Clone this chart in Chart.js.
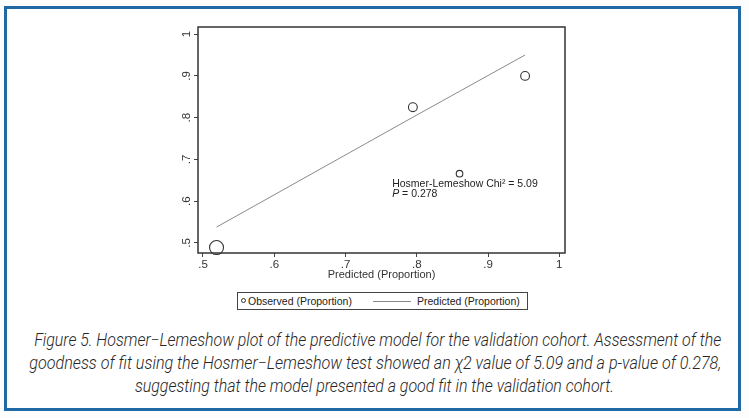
<!DOCTYPE html>
<html>
<head>
<meta charset="utf-8">
<script src="https://cdn.jsdelivr.net/npm/chart.js@4.4.1/dist/chart.umd.min.js"></script>
<style>
  html, body { margin:0; padding:0; background:#fdfdfd; width:749px; height:418px; overflow:hidden; }
  #frame { position:absolute; left:4px; top:6px; width:731px; height:399px; border:3px solid #1f69a6; background:#fff; }
  #c { position:absolute; left:0; top:0; }
  #legend { position:absolute; left:237px; top:292px; width:289px; height:16px; border:1px solid #444; background:#fff;
            font-family:"Liberation Sans", Arial, sans-serif; font-size:10.5px; color:#222; }
  #legend span { position:absolute; top:1px; line-height:14px; white-space:nowrap; }
  #legend .dot { position:absolute; left:3px; top:5px; width:5px; height:5px; border:1px solid #333; border-radius:50%; box-sizing:border-box; }
  #legend .ln { position:absolute; left:135px; top:8px; width:38px; height:0; border-top:1px solid #888; }
  .cap { position:absolute; left:0; width:749px; text-align:center; white-space:nowrap; line-height:22px; height:22px;
         font-family:Roboto,"Liberation Sans",sans-serif; font-weight:300;
         font-style:italic; font-size:17.5px; color:#262626; }
  .cap span { display:inline-block; transform-origin:center center; }
</style>
</head>
<body>
<div id="frame"></div>
<canvas id="c" width="749" height="290" style="width:749px;height:290px"></canvas>
<div id="legend">
  <div class="dot"></div><span style="left:10px">Observed (Proportion)</span>
  <div class="ln"></div><span style="left:179px">Predicted (Proportion)</span>
</div>
<div class="cap" style="top:329px"><span data-w="687">Figure 5. Hosmer−Lemeshow plot of the predictive model for the validation cohort. Assessment of the</span></div>
<div class="cap" style="top:352px"><span data-w="692">goodness of fit using the Hosmer−Lemeshow test showed an χ2 value of 5.09 and a p-value of 0.278,</span></div>
<div class="cap" style="top:375px"><span data-w="479">suggesting that the model presented a good fit in the validation cohort.</span></div>
<script>
// ---- data ----
const predicted = [0.519, 0.7945, 0.860, 0.952];
const observed  = [0.489, 0.825, 0.666, 0.900];
const predictedLine = [0.538, 0.801, 0.863, 0.950];
const xTicks = [0.5, 0.6, 0.7, 0.8, 0.9, 1.0];
const xTickLabels = ['.5', '.6', '.7', '.8', '.9', '1'];
const yTicks = [0.5, 0.6, 0.7, 0.8, 0.9, 1.0];
const yTickLabels = ['.5', '.6', '.7', '.8', '.9', '1'];
const annotLine1 = 'Hosmer-Lemeshow Chi\u00B2 = 5.09';
const annotLine2 = ' = 0.278';
const annotAnchor = { x: 0.7655, y: 0.641 };

const tickFont = { family: '"Liberation Sans", Arial, sans-serif', size: 11.5 };

const framePlugin = {
  id: 'frame',
  afterDatasetsDraw(chart) {
    const { ctx, chartArea: a, scales } = chart;
    ctx.save();
    ctx.strokeStyle = '#333';
    ctx.lineWidth = 1.5;
    ctx.strokeRect(a.left, a.top, a.right - a.left, a.bottom - a.top);
    // annotation text
    const x = scales.x.getPixelForValue(annotAnchor.x);
    const y = scales.y.getPixelForValue(annotAnchor.y);
    ctx.fillStyle = '#222';
    ctx.textBaseline = 'middle';
    ctx.textAlign = 'left';
    ctx.font = '10.5px "Liberation Sans", Arial, sans-serif';
    ctx.fillText(annotLine1, x, y);
    ctx.font = 'italic 10.5px "Liberation Sans", Arial, sans-serif';
    ctx.fillText('P', x, y + 10);
    const w = ctx.measureText('P').width;
    ctx.font = '10.5px "Liberation Sans", Arial, sans-serif';
    ctx.fillText(annotLine2, x + w, y + 10);
    ctx.restore();
  }
};

new Chart(document.getElementById('c'), {
  data: {
    datasets: [
      {
        type: 'scatter',
        label: 'Observed (Proportion)',
        data: predicted.map((p, i) => ({ x: p, y: observed[i] })),
        pointRadius: [7, 4.4, 3.3, 4.4],
        pointHoverRadius: [7, 4.4, 3.3, 4.4],
        pointBorderColor: '#333',
        pointBackgroundColor: 'rgba(0,0,0,0)',
        pointBorderWidth: 1.1,
        clip: false,
        order: 1
      },
      {
        type: 'line',
        label: 'Predicted (Proportion)',
        data: predicted.map((p, i) => ({ x: p, y: predictedLine[i] })),
        borderColor: '#8a8a8a',
        borderWidth: 1,
        pointRadius: 0,
        tension: 0,
        order: 2
      }
    ]
  },
  options: {
    responsive: false,
    animation: false,
    devicePixelRatio: 1,
    layout: { padding: { left: 160, right: 184, top: 27, bottom: 0 } },
    plugins: { legend: { display: false }, tooltip: { enabled: false } },
    scales: {
      x: {
        type: 'linear',
        min: 0.493, max: 1.008,
        afterBuildTicks(s) { s.ticks = xTicks.map(v => ({ value: v })); },
        afterFit(s) { s.height = 37; },
        border: { display: false },
        grid: { display: true, drawOnChartArea: false, drawTicks: true, tickLength: 4, color: '#444', lineWidth: 1 },
        ticks: { font: tickFont, color: '#333', padding: 1, maxRotation: 0,
                 callback: (v) => xTickLabels[xTicks.findIndex(t => Math.abs(t - v) < 1e-9)] },
        title: { display: true, text: 'Predicted (Proportion)', font: { family: tickFont.family, size: 11 }, color: '#333', padding: { top: 0, bottom: 8 } }
      },
      y: {
        type: 'linear',
        min: 0.476, max: 1.017,
        afterBuildTicks(s) { s.ticks = yTicks.map(v => ({ value: v })); },
        afterFit(s) { s.width = 38; },
        border: { display: false },
        grid: { display: true, drawOnChartArea: false, drawTicks: true, tickLength: 4, color: '#444', lineWidth: 1 },
        ticks: { font: tickFont, color: '#333', padding: 2, minRotation: 90, maxRotation: 90, crossAlign: 'center',
                 callback: (v) => yTickLabels[yTicks.findIndex(t => Math.abs(t - v) < 1e-9)] }
      }
    }
  },
  plugins: [framePlugin]
});

// fit caption lines to their measured widths
document.querySelectorAll('.cap span').forEach(sp => {
  const target = +sp.dataset.w;
  const w = sp.getBoundingClientRect().width;
  if (w > 0) sp.style.transform = 'scaleX(' + (target / w).toFixed(4) + ')';
});
</script>
</body>
</html>
